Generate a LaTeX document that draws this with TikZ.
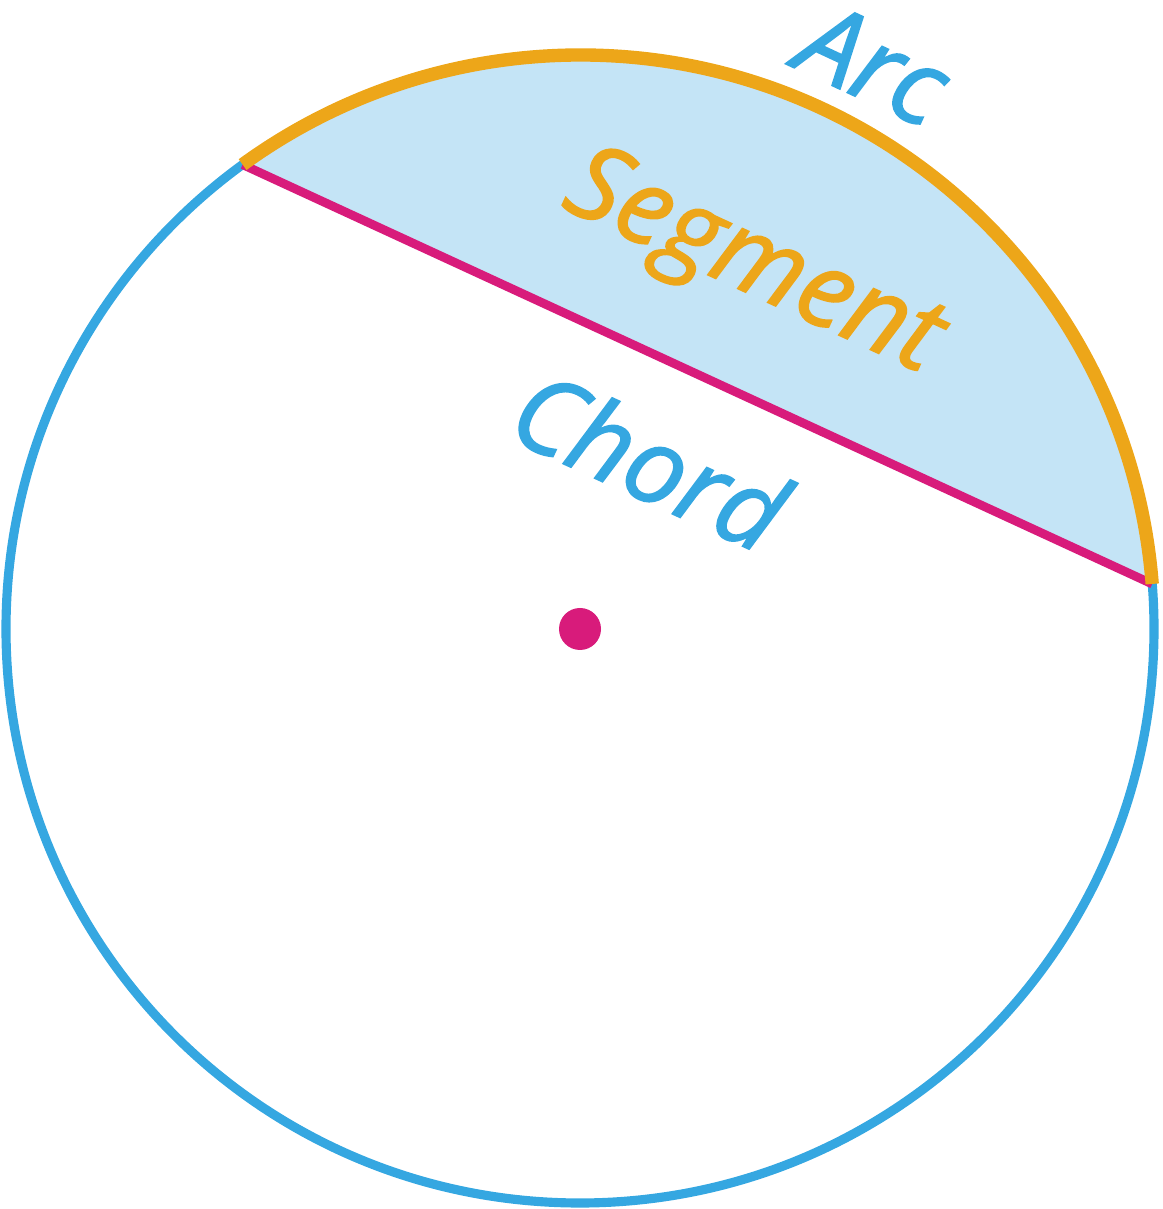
\documentclass[tikz,border=0pt]{standalone}
\usepackage{fontspec}
\setmainfont{Open Sans}
\newfontfamily\labelfont{Open Sans}[ItalicFeatures={FakeBold=1.6}]
\usetikzlibrary{calc}
\definecolor{circblue}{HTML}{35A7E1}
\definecolor{arcorange}{HTML}{EDA619}
\definecolor{chordpink}{HTML}{D81B7B}
\definecolor{segfill}{HTML}{C4E4F6}
\tikzset{
  word/.style={font=\labelfont\fontsize{30}{36}\selectfont\itshape, inner sep=0pt},
}
\begin{document}
\begin{tikzpicture}[x=0.01cm, y=0.01cm]
    \useasboundingbox (0,0) rectangle (1162,1209);
    \coordinate (O) at (580,580);
    \coordinate (A) at ($(O)+(126:574)$);
    \coordinate (B) at ($(O)+(4.5:574)$);
    % segment
    \fill[segfill] (B) arc[start angle=4.5, end angle=126, radius=574] -- cycle;
    \draw[circblue, line width=2.6pt] (O) circle[radius=574];
    \draw[chordpink, line width=2.5pt] (A) -- (B);
    \draw[arcorange, line width=3.8pt] (B) arc[start angle=4.5, end angle=126, radius=574];
    \fill[chordpink] (O) circle[radius=21];
    % labels
    \node[word, circblue, rotate=-25] (arc) at (874,1145) {Arc};
    \node[word, arcorange, rotate=-24.7] (segment) at (752,942) {Segment};
    \node[word, circblue, rotate=-24.7] (chord) at (650,749) {Chord};
\end{tikzpicture}
\end{document}
